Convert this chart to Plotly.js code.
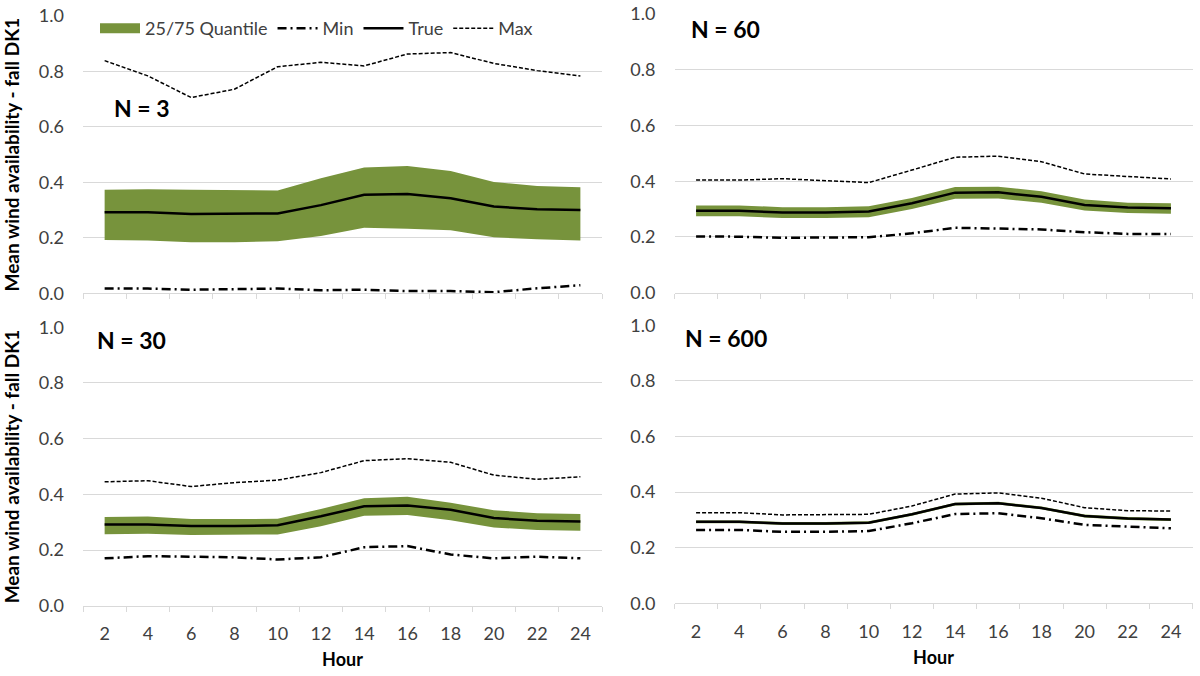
<!DOCTYPE html>
<html><head><meta charset="utf-8">
<script src="https://cdn.plot.ly/plotly-3.0.1.min.js"></script>
<style>html,body{margin:0;padding:0;background:#fff}#chart{width:1200px;height:676px}</style>
</head><body><div id="chart"></div>
<script>
const hours = ['2','4','6','8','10','12','14','16','18','20','22','24'];
const panelLabels = ['N = 3','N = 60','N = 30','N = 600'];
const legendNames = ['25/75 Quantile','Min','True','Max'];

// N = 3
const true3 = [0.292,0.292,0.286,0.286,0.288,0.318,0.355,0.358,0.343,0.313,0.303,0.300];
const q75_3 = [0.373,0.375,0.373,0.371,0.371,0.415,0.454,0.459,0.441,0.401,0.387,0.382];
const q25_3 = [0.192,0.190,0.184,0.184,0.188,0.207,0.236,0.233,0.227,0.202,0.195,0.190];
const max3  = [0.839,0.784,0.706,0.736,0.817,0.833,0.820,0.863,0.868,0.829,0.803,0.784];
const min3  = [0.017,0.017,0.013,0.014,0.017,0.011,0.013,0.008,0.008,0.004,0.018,0.029];
// N = 60
const true60 = [0.294,0.294,0.288,0.288,0.291,0.321,0.359,0.360,0.344,0.315,0.306,0.303];
const q75_60 = [0.313,0.313,0.307,0.307,0.310,0.340,0.379,0.380,0.364,0.334,0.323,0.321];
const q25_60 = [0.274,0.274,0.268,0.268,0.271,0.300,0.337,0.338,0.323,0.295,0.286,0.283];
const max60  = [0.404,0.404,0.409,0.401,0.395,0.440,0.486,0.490,0.470,0.426,0.416,0.408];
const min60  = [0.202,0.201,0.197,0.197,0.199,0.213,0.233,0.230,0.227,0.217,0.211,0.211];
// N = 30
const true30 = [0.292,0.292,0.286,0.286,0.289,0.321,0.357,0.360,0.345,0.315,0.305,0.302];
const q75_30 = [0.319,0.320,0.311,0.311,0.312,0.347,0.386,0.391,0.370,0.343,0.332,0.329];
const q25_30 = [0.257,0.258,0.254,0.254,0.256,0.285,0.323,0.326,0.307,0.281,0.272,0.269];
const max30  = [0.445,0.449,0.428,0.442,0.451,0.478,0.521,0.528,0.515,0.469,0.454,0.463];
const min30  = [0.170,0.178,0.176,0.174,0.166,0.174,0.210,0.214,0.184,0.170,0.176,0.170];
// N = 600
const true600 = [0.293,0.293,0.287,0.287,0.290,0.320,0.357,0.360,0.343,0.314,0.305,0.301];
const q75_600 = [0.298,0.298,0.292,0.292,0.295,0.325,0.362,0.365,0.348,0.319,0.310,0.306];
const q25_600 = [0.288,0.288,0.282,0.282,0.285,0.315,0.352,0.355,0.338,0.309,0.300,0.296];
const max600  = [0.326,0.326,0.318,0.318,0.320,0.350,0.393,0.397,0.378,0.344,0.333,0.332];
const min600  = [0.264,0.264,0.257,0.257,0.260,0.288,0.321,0.324,0.306,0.282,0.276,0.270];

const panels = [
  {q25:q25_3, q75:q75_3, tru:true3, mn:min3, mx:max3},
  {q25:q25_60, q75:q75_60, tru:true60, mn:min60, mx:max60},
  {q25:q25_30, q75:q75_30, tru:true30, mn:min30, mx:max30},
  {q25:q25_600, q75:q75_600, tru:true600, mn:min600, mx:max600}
];

const GREEN = '#77933c';
const FONT = 'Lato, "Open Sans", sans-serif';
const minDash = '9px,4px,2px,4px';
const maxDash = '4px,2px';

const traces = [];
panels.forEach((p, i) => {
  const xa = i === 0 ? 'x' : 'x' + (i + 1);
  const ya = i === 0 ? 'y' : 'y' + (i + 1);
  traces.push({x:hours, y:p.q25, xaxis:xa, yaxis:ya, type:'scatter', mode:'lines',
    line:{width:0, color:GREEN}, showlegend:false, hoverinfo:'skip'});
  traces.push({x:hours, y:p.q75, xaxis:xa, yaxis:ya, type:'scatter', mode:'lines',
    fill:'tonexty', fillcolor:GREEN, line:{width:0, color:GREEN}, showlegend:false});
  traces.push({x:hours, y:p.mn, xaxis:xa, yaxis:ya, type:'scatter', mode:'lines', name:legendNames[1],
    line:{color:'#000', width:2.5, dash:minDash}, showlegend:false});
  traces.push({x:hours, y:p.tru, xaxis:xa, yaxis:ya, type:'scatter', mode:'lines', name:legendNames[2],
    line:{color:'#000', width:2.5}, showlegend:false});
  traces.push({x:hours, y:p.mx, xaxis:xa, yaxis:ya, type:'scatter', mode:'lines', name:legendNames[3],
    line:{color:'#000', width:1.5, dash:maxDash}, showlegend:false});
});
// legend entries (drawn only in the legend)
traces.push({x:[hours[0]], y:[null], type:'scatter', mode:'lines', name:legendNames[0], line:{color:GREEN, width:10}, showlegend:true});
traces.push({x:[hours[0]], y:[null], type:'scatter', mode:'lines', name:legendNames[1], line:{color:'#000', width:2.5, dash:minDash}, showlegend:true});
traces.push({x:[hours[0]], y:[null], type:'scatter', mode:'lines', name:legendNames[2], line:{color:'#000', width:2.5}, showlegend:true});
traces.push({x:[hours[0]], y:[null], type:'scatter', mode:'lines', name:legendNames[3], line:{color:'#000', width:1.5, dash:maxDash}, showlegend:true});

const xDomL = [83/1200, 602/1200], xDomR = [674.5/1200, 1192.5/1200];
const yDoms = [[1-293.3/676, 1-16/676],[1-292.7/676, 1-14/676],[1-605.7/676, 1-327.3/676],[1-603.3/676, 1-325.3/676]];

function xAxis(i, dom, labels) {
  const a = {type:'category', domain:dom, range:[-0.5, 11.5], anchor: i===0?'y':'y'+(i+1),
    tickson:'boundaries', ticks:'outside', ticklen:5, tickcolor:'#d9d9d9', tickwidth:1,
    showline:true, linecolor:'#d9d9d9', linewidth:1, showgrid:false, zeroline:false,
    showticklabels:labels, ticklabelstandoff:12,
    tickfont:{family:FONT, size:18, color:'#404040'}, fixedrange:true};
  if (labels) a.title = {text:'Hour', font:{family:FONT, size:18, color:'#000', weight:'bold'}, standoff:10};
  return a;
}
function yAxis(i, dom, withTitle) {
  const a = {domain:dom, range:[0,1], dtick:0.2, tick0:0, tickformat:'.1f', anchor: i===0?'x':'x'+(i+1),
    showgrid:true, gridcolor:'#d9d9d9', gridwidth:1, zeroline:false, showline:false, ticks:'',
    ticklabelstandoff:18, tickfont:{family:FONT, size:18, color:'#404040'}, fixedrange:true};
  if (withTitle) a.title = {text:'Mean wind availability - fall DK1', font:{family:FONT, size:19, color:'#000', weight:'bold'}, standoff:14};
  return a;
}

const labelPos = [[112, 108], [689, 29.5], [95, 340], [683, 337.5]];
const annotations = panelLabels.map((t, i) => ({text:t, xref:'paper', yref:'paper',
  x: labelPos[i][0]/1200, y: 1 - labelPos[i][1]/676, xanchor:'left', yanchor:'middle', showarrow:false,
  font:{family:FONT, size:23, color:'#000', weight:'bold'}}));

const layout = {
  width:1200, height:676, margin:{l:0, r:0, t:0, b:0}, paper_bgcolor:'#fff', plot_bgcolor:'#fff',
  xaxis: xAxis(0, xDomL, false), yaxis: yAxis(0, yDoms[0], true),
  xaxis2: xAxis(1, xDomR, false), yaxis2: yAxis(1, yDoms[1], false),
  xaxis3: xAxis(2, xDomL, true), yaxis3: yAxis(2, yDoms[2], true),
  xaxis4: xAxis(3, xDomR, true), yaxis4: yAxis(3, yDoms[3], false),
  showlegend:true,
  legend:{orientation:'h', x:95/1200, y:1-28.5/676, xanchor:'left', yanchor:'middle', bgcolor:'rgba(0,0,0,0)',
    font:{family:FONT, size:18, color:'#404040'}, itemwidth:40, traceorder:'normal'},
  annotations: annotations
};
Plotly.newPlot('chart', traces, layout, {staticPlot:true, displayModeBar:false});
</script></body></html>
